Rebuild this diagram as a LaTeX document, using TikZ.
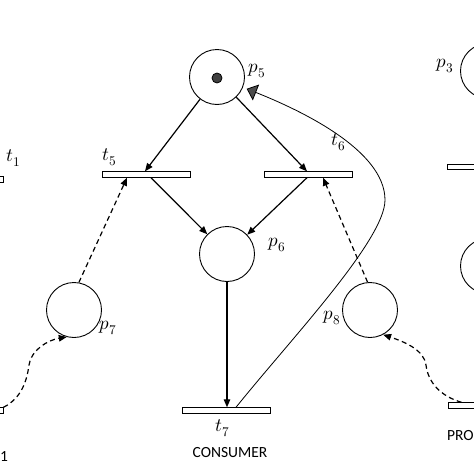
\documentclass[tikz,border=0pt]{standalone}
\usepackage{fontspec}
\usepackage{unicode-math}
\setmathfont{Latin Modern Math}
\setmainfont{Carlito}
\usetikzlibrary{arrows.meta}
\begin{document}
\begin{tikzpicture}[x=1pt,y=-1pt,
  place/.style={circle,draw,line width=0.9pt,minimum size=55pt,inner sep=0pt},
  trans/.style={rectangle,draw,line width=0.9pt,fill=white,minimum width=88pt,minimum height=5.5pt,inner sep=0pt},
  arc/.style={line width=1.2pt,-{Triangle[length=8pt,width=6.5pt]}},
  darc/.style={arc,dash pattern=on 5pt off 3.5pt},
  lab/.style={font=\fontsize{19}{22}\selectfont,inner sep=0pt},
  captext/.style={font=\fontsize{15.5}{18}\selectfont,inner sep=0pt},
]
\useasboundingbox (0,0) rectangle (474,474);
% places
\node[place] (p5) at (217,77) {};
\node[circle,draw=black,fill=black!75,line width=0.8pt,minimum size=10pt,inner sep=0pt] (tok) at (217,78) {};
\node[place] (p6) at (227,254) {};
\node[place] (p7) at (74,310) {};
\node[place] (p8) at (370,310) {};
\node[place] (p3) at (488,71) {};
\node[place] (pr) at (488,266) {};
% transitions
\node[trans] (t5) at (146,174.5) {};
\node[trans] (t6) at (308.5,174.5) {};
\node[trans] (t7) at (226,410.5) {};
\node[trans] (t1) at (-41,179.5) {};
\node[trans] (tb) at (-41,410.5) {};
\node[trans] (tr) at (491,166.7) {};
\node[trans] (trb) at (492,405.5) {};
% labels
\node[lab] at (257,71) {$p_5$};
\node[lab] at (110,157) {$t_5$};
\node[lab] at (339,142) {$t_6$};
\node[lab] at (14,158) {$t_1$};
\node[lab] at (445,66) {$p_3$};
\node[lab] at (277,245) {$p_6$};
\node[lab] at (108,328) {$p_7$};
\node[lab] at (332,318) {$p_8$};
\node[lab] at (223,428) {$t_7$};
\node[captext] at (230,453) {CONSUMER};
\node[captext,anchor=west] at (447,436) {PRO};
\node[captext] at (4,457) {1};
% arcs
\draw[arc] (p5) -- ([xshift=-1pt]t5.north);
\draw[arc] (p5) -- ([xshift=-1.5pt]t6.north);
\draw[arc] ([xshift=5pt]t5.south) -- (p6);
\draw[arc] ([xshift=-1.5pt]t6.south) -- (p6);
\draw[arc] (p6.south) -- (p6.south |- t7.north);
\draw[darc] (p7.80) -- ([xshift=-19pt]t5.south);
\draw[darc] (p8.95) -- ([xshift=14.5pt]t6.south);
\draw[darc] (tb.north east) .. controls (22,398) and (27,380) .. (29,365)
  .. controls (31,350) and (48,340) .. (p7.255);
\draw[darc] ([xshift=14pt]trb.north west) .. controls (440,396) and (428,382) .. (426,365)
  .. controls (424,350) and (405,342) .. (p8.-62);
\draw[line width=0.8pt,-{Triangle[length=10pt,width=17pt,fill=black!70]},shorten >=4pt]
  ([xshift=10pt]t7.north) .. controls (290,340) and (385,240) .. (385,200)
  .. controls (385,150) and (300,110) .. (p5);
\end{tikzpicture}
\end{document}
